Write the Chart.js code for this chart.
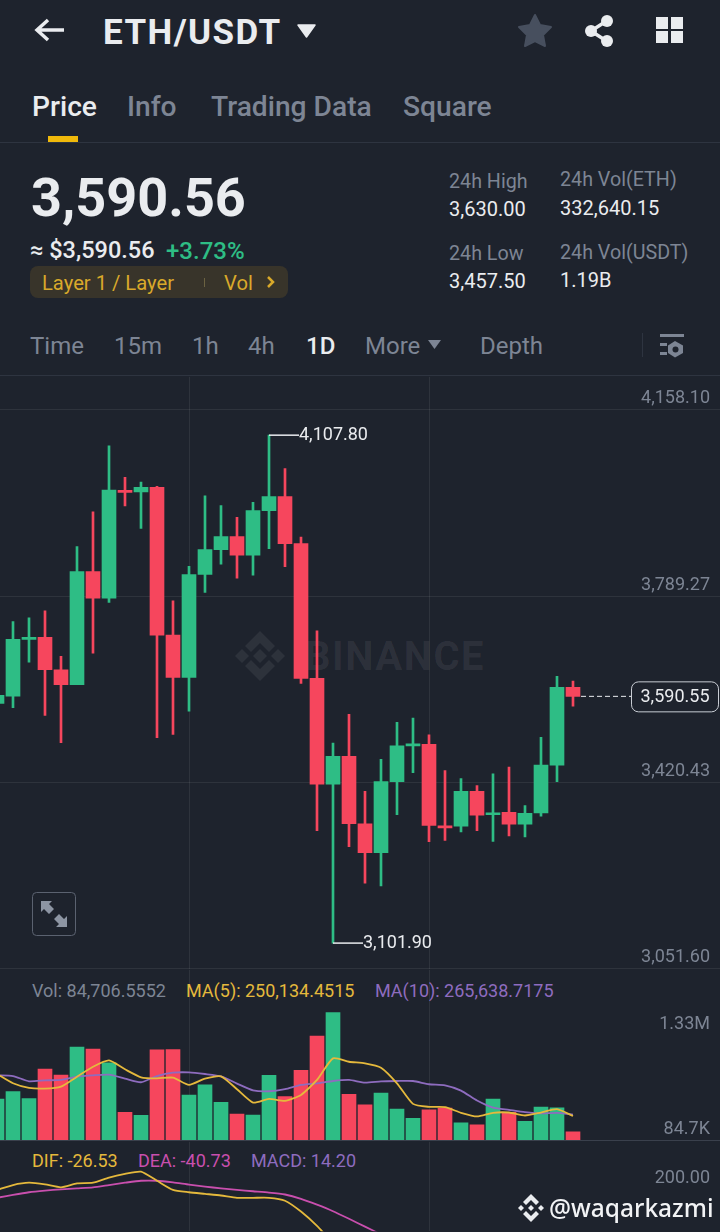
<!DOCTYPE html>
<html>
<head>
<meta charset="utf-8">
<title>ETH/USDT</title>
<script src="https://cdn.jsdelivr.net/npm/chart.js@4"></script>
<style>
    html, body { margin: 0; padding: 0; background: #1e232d; }
    body { position: relative; width: 720px; height: 1232px; overflow: hidden; font-family: Roboto, sans-serif; }
    .t { position: absolute; white-space: nowrap; line-height: 1; transform: translateY(-50%); }
    .g { color: #7d8594; }
    .w { color: #eaecef; }
    .line { position: absolute; left: 0; width: 720px; height: 1px; background: #2e3440; }
    canvas { position: absolute; left: 0; }
    svg { position: absolute; left: 0; top: 0; }
</style>
</head>
<body>
<svg width="720" height="1232" viewBox="0 0 720 1232">
    <g fill="none" stroke="#eaecef" stroke-width="3.5">
        <path d="M64 30H38M48 20L37 30L48 40"/>
        <path d="M608 20L591 31L608 42"/>
    </g>
    <path d="M298 25H315L306.500 37Z" fill="#eaecef" stroke="#eaecef" stroke-width="1.500" stroke-linejoin="round"/>
    <path d="M535 15L540 25L551 27L543 35L545 46L535 41L525 46L527 35L519 27L530 25Z" fill="#474f5e" stroke="#474f5e" stroke-linejoin="round" stroke-width="2"/>
    <g fill="#eaecef">
        <circle cx="607" cy="21" r="6"/><circle cx="591" cy="31" r="6"/><circle cx="607" cy="41" r="6"/>
        <rect x="656" y="17" width="12" height="12"/><rect x="671" y="17" width="12" height="12"/>
        <rect x="656" y="31" width="12" height="12"/><rect x="671" y="31" width="12" height="12"/>
    </g>
    <rect x="48" y="136" width="30" height="6" fill="#f0b90b"/>
    <rect x="30" y="266" width="258" height="32" rx="8" fill="#38342a"/>
    <rect x="204" y="278" width="1" height="9" fill="#6b6241"/>
    <path d="M268 277L273 282L268 287" fill="none" stroke="#d9a92a" stroke-width="2.500"/>
    <path d="M428 340H441L434.500 349Z" fill="#7d8594"/>
    <rect x="642" y="333" width="1" height="24" fill="#2e3440"/>
    <g fill="#7d8594">
        <rect x="660" y="334" width="24" height="3"/>
        <rect x="660" y="343" width="7" height="3"/>
        <rect x="660" y="352" width="7" height="3"/>
        <path d="M675 341L683 345.500V353L675 357.500L668 353V345.500Z"/>
    </g>
    <circle cx="675.500" cy="349.500" r="3" fill="#1e232d"/>
    <!-- watermark sits under the candles -->
    <g fill="#fff" fill-opacity="0.07" transform="translate(260 656)">
        <path d="M0 -25L15 -10L9 -4L0 -13L-9 -4L-15 -10Z"/>
        <path d="M0 25L15 10L9 4L0 13L-9 4L-15 10Z"/>
        <path d="M0 -7L7 0L0 7L-7 0Z"/>
        <path d="M-18 -7L-11 0L-18 7L-25 0Z"/>
        <path d="M18 -7L25 0L18 7L11 0Z"/>
    </g>
</svg>

<div class="t" style="left:305px;top:657px;font-size:40px;font-weight:700;color:rgba(255,255,255,.07);letter-spacing:1.5px">BINANCE</div>

<div class="t w" style="left:103px;top:32px;font-size:35px;font-weight:700;letter-spacing:1.4px">ETH/USDT</div>
<div class="t w" style="left:32px;top:107px;font-size:28.200px;font-weight:500">Price</div>
<div class="t g" style="left:127px;top:107px;font-size:28.200px;font-weight:500">Info</div>
<div class="t g" style="left:211px;top:107px;font-size:28.200px;font-weight:500">Trading Data</div>
<div class="t g" style="left:403px;top:107px;font-size:28.200px;font-weight:500">Square</div>
<div class="line" style="top:142px"></div>

<div class="t w" style="left:31px;top:198px;font-size:54px;font-weight:700">3,590.56</div>
<div class="t w" style="left:30px;top:251px;font-size:23.500px;font-weight:500">≈ $3,590.56</div>
<div class="t" style="left:166px;top:251px;font-size:24px;font-weight:500;color:#2ebd85">+3.73%</div>
<div class="t" style="left:42px;top:283px;font-size:20.200px;color:#d9a92a">Layer 1 / Layer</div>
<div class="t" style="left:224px;top:283px;font-size:20.200px;color:#d9a92a">Vol</div>

<div class="t g" style="left:449px;top:182px;font-size:19.700px">24h High</div>
<div class="t w" style="left:449px;top:209px;font-size:20px">3,630.00</div>
<div class="t g" style="left:560px;top:180px;font-size:19.700px">24h Vol(ETH)</div>
<div class="t w" style="left:560px;top:208px;font-size:20px">332,640.15</div>
<div class="t g" style="left:449px;top:254px;font-size:19.700px">24h Low</div>
<div class="t w" style="left:449px;top:281px;font-size:20px">3,457.50</div>
<div class="t g" style="left:560px;top:253px;font-size:19.700px">24h Vol(USDT)</div>
<div class="t w" style="left:560px;top:280px;font-size:20px">1.19B</div>

<div class="t g" style="left:30px;top:346px;font-size:24px">Time</div>
<div class="t g" style="left:114px;top:346px;font-size:24px">15m</div>
<div class="t g" style="left:192px;top:346px;font-size:24px">1h</div>
<div class="t g" style="left:248px;top:346px;font-size:24px">4h</div>
<div class="t w" style="left:306px;top:346px;font-size:24px;font-weight:500">1D</div>
<div class="t g" style="left:365px;top:346px;font-size:24px">More</div>
<div class="t g" style="left:480px;top:346px;font-size:24px">Depth</div>
<div class="line" style="top:375px"></div>

<div class="t g" style="left:32px;top:991px;font-size:18px">Vol: 84,706.5552</div>
<div class="t" style="left:186px;top:991px;font-size:18px;color:#e5b93c">MA(5): 250,134.4515</div>
<div class="t" style="left:375px;top:991px;font-size:18px;color:#8e6cbf">MA(10): 265,638.7175</div>
<div class="t" style="left:32px;top:1161px;font-size:18px;color:#e5b93c">DIF: -26.53</div>
<div class="t" style="left:138px;top:1161px;font-size:18px;color:#c94fae">DEA: -40.73</div>
<div class="t" style="left:251px;top:1161px;font-size:18px;color:#8e6cbf">MACD: 14.20</div>

<canvas id="priceChart" width="720" height="594" style="top:376px"></canvas>
<canvas id="volChart" width="720" height="172" style="top:969px"></canvas>
<canvas id="macdChart" width="720" height="91" style="top:1141px"></canvas>

<svg width="720" height="1232" viewBox="0 0 720 1232" style="pointer-events:none">
    <rect x="32.500" y="892.500" width="43" height="43" rx="4" fill="#1e232d" stroke="#5b6270"/>
    <g fill="#8d95a3">
        <path d="M41 901H52L49 904L54 909L49 914L44 909L41 912Z"/>
        <path d="M67 927H56L59 924L54 919L59 914L64 919L67 916Z"/>
    </g>
    <g fill="#eaecef" transform="translate(531 1208)">
        <path d="M0 -14L8 -6L5 -3L0 -8L-5 -3L-8 -6Z"/>
        <path d="M0 14L8 6L5 3L0 8L-5 3L-8 6Z"/>
        <path d="M0 -3L3 0L0 3L-3 0Z"/>
        <path d="M-10 -3L-7 0L-10 3L-13 0Z"/>
        <path d="M10 -3L13 0L10 3L7 0Z"/>
    </g>
</svg>
<div class="t" style="left:549px;top:1208px;font-size:24.500px;font-weight:500;color:#f2f3f5;font-family:'Noto Sans',sans-serif">@waqarkazmi</div>

<script>
const days = [0,1,2,3,4,5,6,7,8,9,10,11,12,13,14,15,16,17,18,19,20,21,22,23,24,25,26,27,28,29,30,31,32,33,34,35,36];

const openPrices = [3576.67,3591.10,3703.24,3707.20,3643.32,3613.65,3837.72,3784.92,3998.51,3995.35,4004.46,3711.74,3628.09,3831.79,3881.23,3906.94,3869.96,3958.36,3986.05,3893.10,3626.11,3416.47,3471.85,3338.18,3281.20,3421.62,3492.61,3495.78,3334.00,3333.41,3402.23,3356.15,3360.70,3337.37,3359.52,3454.45,3608.31];
const highPrices = [3600.00,3738.84,3746.16,3760.00,3669.62,3887.17,3955.79,4086.91,4024.22,4015.12,4006.44,3779.78,3848.21,3987.44,3968.25,3945.11,3974.78,4107.80,4041.43,3905.76,3720.45,3497.96,3554.91,3402.23,3465.92,3539.29,3547.39,3514.57,3443.77,3427.55,3413.70,3437.04,3450.30,3374.15,3509.23,3630.00,3620.97];
const lowPrices = [3560.00,3568.16,3658.34,3552.93,3498.94,3613.65,3676.15,3776.41,3967.66,3923.36,3508.83,3515.36,3561.44,3796.19,3852.16,3824.47,3830.41,3883.21,3847.61,3616.22,3324.71,3101.90,3292.67,3220.48,3214.95,3356.15,3439.61,3302.57,3305.34,3321.94,3324.71,3303.35,3314.03,3312.05,3353.39,3421.62,3571.33];
const closePrices = [3592.49,3703.24,3707.20,3643.32,3613.65,3837.72,3784.92,3999.30,3994.56,4004.46,3711.74,3628.09,3831.79,3881.23,3906.94,3869.96,3958.36,3986.05,3893.10,3626.11,3416.47,3471.85,3338.18,3281.20,3421.62,3492.42,3496.57,3334.79,3330.05,3402.23,3355.36,3360.11,3337.37,3358.72,3454.45,3608.31,3590.55];

const volumes = [426000,506000,433000,741000,678000,969000,949000,807000,288000,257000,942000,945000,468000,575000,392000,270000,260000,675000,454000,727000,1084000,1330000,478000,367000,491000,322000,225000,315000,332000,180000,159000,426000,288000,194000,343000,336000,84706];
const ma5 = [689000,592000,544000,537000,558000,661000,765000,831000,738000,655000,644000,651000,575000,641000,665000,530000,391000,429000,409000,471000,627000,852000,817000,800000,755000,592000,377000,346000,343000,284000,246000,284000,287000,256000,287000,322000,250134];
const ma10 = [675000,668000,613000,623000,627000,661000,675000,682000,641000,603000,668000,703000,706000,689000,665000,589000,519000,509000,530000,575000,592000,616000,627000,599000,613000,616000,616000,582000,571000,516000,412000,339000,315000,291000,277000,284000,265638];

const dif = [200,210,214.7,211.3,205.3,213.3,214.7,225.3,232.7,237.3,218.7,200,195.3,192,188.7,184,184,184,178,156,126.7,91];
const dea = [184,190,195.3,198.7,201.3,203.3,205.3,210,214.7,218.7,218.7,215.3,210.7,206.7,203.3,200,197.3,194.7,190.7,182,170,156.7,141.3,125.3,109.3];

const priceTicks = [4158.10, 3789.27, 3420.43, 3051.60];
const volTickHigh = 1330000;
const volTickLow = 84700;
const macdTicks = [200];
const xGridDays = [12, 27];

const GREEN = '#2ebd85';
const RED = '#f6465d';
const GRID = 'rgba(255,255,255,0.075)';
const AXIS_TEXT = '#7d8594';
const LABEL_FONT = { family: 'Roboto', size: 18 };

const isUp = days.map(i => closePrices[i] >= openPrices[i]);
const candleColors = isUp.map(up => up ? GREEN : RED);

function xAxis() {
    return {
        type: 'linear', min: 0.1875, max: 45.1875, offset: false,
        border: { display: false },
        grid: { color: GRID, drawTicks: false, offset: false },
        ticks: { display: false },
        afterBuildTicks: s => { s.ticks = xGridDays.map(v => ({ value: v })); },
        afterFit: s => { s.height = 0; }
    };
}

function yAxis(min, max, values, fmt, labelOffset, showGrid) {
    return {
        position: 'right', min, max,
        border: { display: false },
        grid: { display: showGrid, color: GRID, drawTicks: false },
        ticks: {
            mirror: true, padding: -10, labelOffset, color: AXIS_TEXT, font: LABEL_FONT,
            autoSkip: false, callback: fmt
        },
        afterBuildTicks: s => { s.ticks = values.map(v => ({ value: v })); },
        afterFit: s => { s.width = 0; }
    };
}

const money = v => v.toLocaleString('en-US', { minimumFractionDigits: 2, maximumFractionDigits: 2 });
const volLabel = v => v >= 1e6 ? (v / 1e6).toFixed(2) + 'M' : (v / 1e3).toFixed(1) + 'K';

// high / low callouts and the last price tag
const priceMarks = {
    id: 'priceMarks',
    afterDatasetsDraw(chart) {
        const { ctx, scales: { x, y } } = chart;
        const hi = highPrices.indexOf(Math.max(...highPrices));
        const lo = lowPrices.indexOf(Math.min(...lowPrices));
        ctx.save();
        ctx.font = '18px Roboto';
        ctx.textBaseline = 'middle';
        ctx.strokeStyle = '#eaecef';
        ctx.fillStyle = '#eaecef';
        ctx.lineWidth = 1.5;
        [[hi, highPrices[hi]], [lo, lowPrices[lo]]].forEach(([i, price]) => {
            const px = x.getPixelForValue(i);
            const py = y.getPixelForValue(price);
            ctx.beginPath();
            ctx.moveTo(px, py);
            ctx.lineTo(px + 30, py);
            ctx.stroke();
            ctx.fillText(money(price), px + 30, py);
        });

        const last = days.length - 1;
        const ly = y.getPixelForValue(closePrices[last]);
        ctx.lineWidth = 1;
        ctx.setLineDash([5, 3]);
        ctx.beginPath();
        ctx.moveTo(x.getPixelForValue(last) + 8, ly);
        ctx.lineTo(631, ly);
        ctx.stroke();
        ctx.setLineDash([]);
        ctx.beginPath();
        ctx.roundRect(631.5, ly - 14.5, 87, 30, 7);
        ctx.fillStyle = '#1e232d';
        ctx.fill();
        ctx.strokeStyle = '#c9cdd4';
        ctx.stroke();
        ctx.fillStyle = '#eaecef';
        ctx.textAlign = 'center';
        ctx.fillText(money(closePrices[last]), 675, ly + 1);
        ctx.restore();
    }
};

const wicks = days.map(i => ({ x: i, y: [lowPrices[i], highPrices[i]] }));
const bodies = days.map(i => ({ x: i, y: [openPrices[i], closePrices[i]] }));

new Chart(document.getElementById('priceChart'), {
    type: 'bar',
    data: {
        datasets: [
            { data: bodies, backgroundColor: candleColors, barThickness: 14, grouped: false, order: 1 },
            { data: wicks, backgroundColor: candleColors, barThickness: 2, grouped: false, order: 2 }
        ]
    },
    options: {
        responsive: false, animation: false,
        layout: { padding: { bottom: 1 } },
        plugins: { legend: { display: false }, tooltip: { enabled: false } },
        scales: {
            x: xAxis(),
            y: yAxis(3050.6, 4223.4, priceTicks, money, -11, true)
        }
    },
    plugins: [priceMarks]
});

const pts = arr => arr.map((v, i) => ({ x: i, y: v }));
const lineSet = (arr, color, order) => ({
    type: 'line', data: pts(arr), borderColor: color, borderWidth: 1.8,
    pointRadius: 0, tension: 0.2, order
});

new Chart(document.getElementById('volChart'), {
    type: 'bar',
    data: {
        datasets: [
            lineSet(ma10, '#8e6cbf', 1),
            lineSet(ma5, '#e5b93c', 0),
            { data: pts(volumes), backgroundColor: candleColors, barThickness: 14, grouped: false, order: 2 }
        ]
    },
    options: {
        responsive: false, animation: false,
        layout: { padding: { bottom: 1 } },
        plugins: { legend: { display: false }, tooltip: { enabled: false } },
        scales: {
            x: xAxis(),
            y: yAxis(0, 1777000, [volTickHigh], volLabel, 12, false),
            yLow: yAxis(0, 1777000, [volTickLow], volLabel, -2, false)
        }
    },
    plugins: [{
        // baseline under the volume bars, right of the last bar too
        id: 'volBase',
        beforeDatasetsDraw(chart) {
            const { ctx, chartArea: a } = chart;
            ctx.fillStyle = '#3a404c';
            ctx.fillRect(a.left, a.bottom, a.right - a.left, 1);
        }
    }]
});

new Chart(document.getElementById('macdChart'), {
    type: 'line',
    data: {
        datasets: [
            lineSet(dea, '#c94fae', 1),
            lineSet(dif, '#e5b93c', 0)
        ]
    },
    options: {
        responsive: false, animation: false,
        plugins: { legend: { display: false }, tooltip: { enabled: false } },
        scales: {
            x: xAxis(),
            y: yAxis(116, 298, macdTicks, money, -11, false)
        }
    }
});
</script>
</body>
</html>
